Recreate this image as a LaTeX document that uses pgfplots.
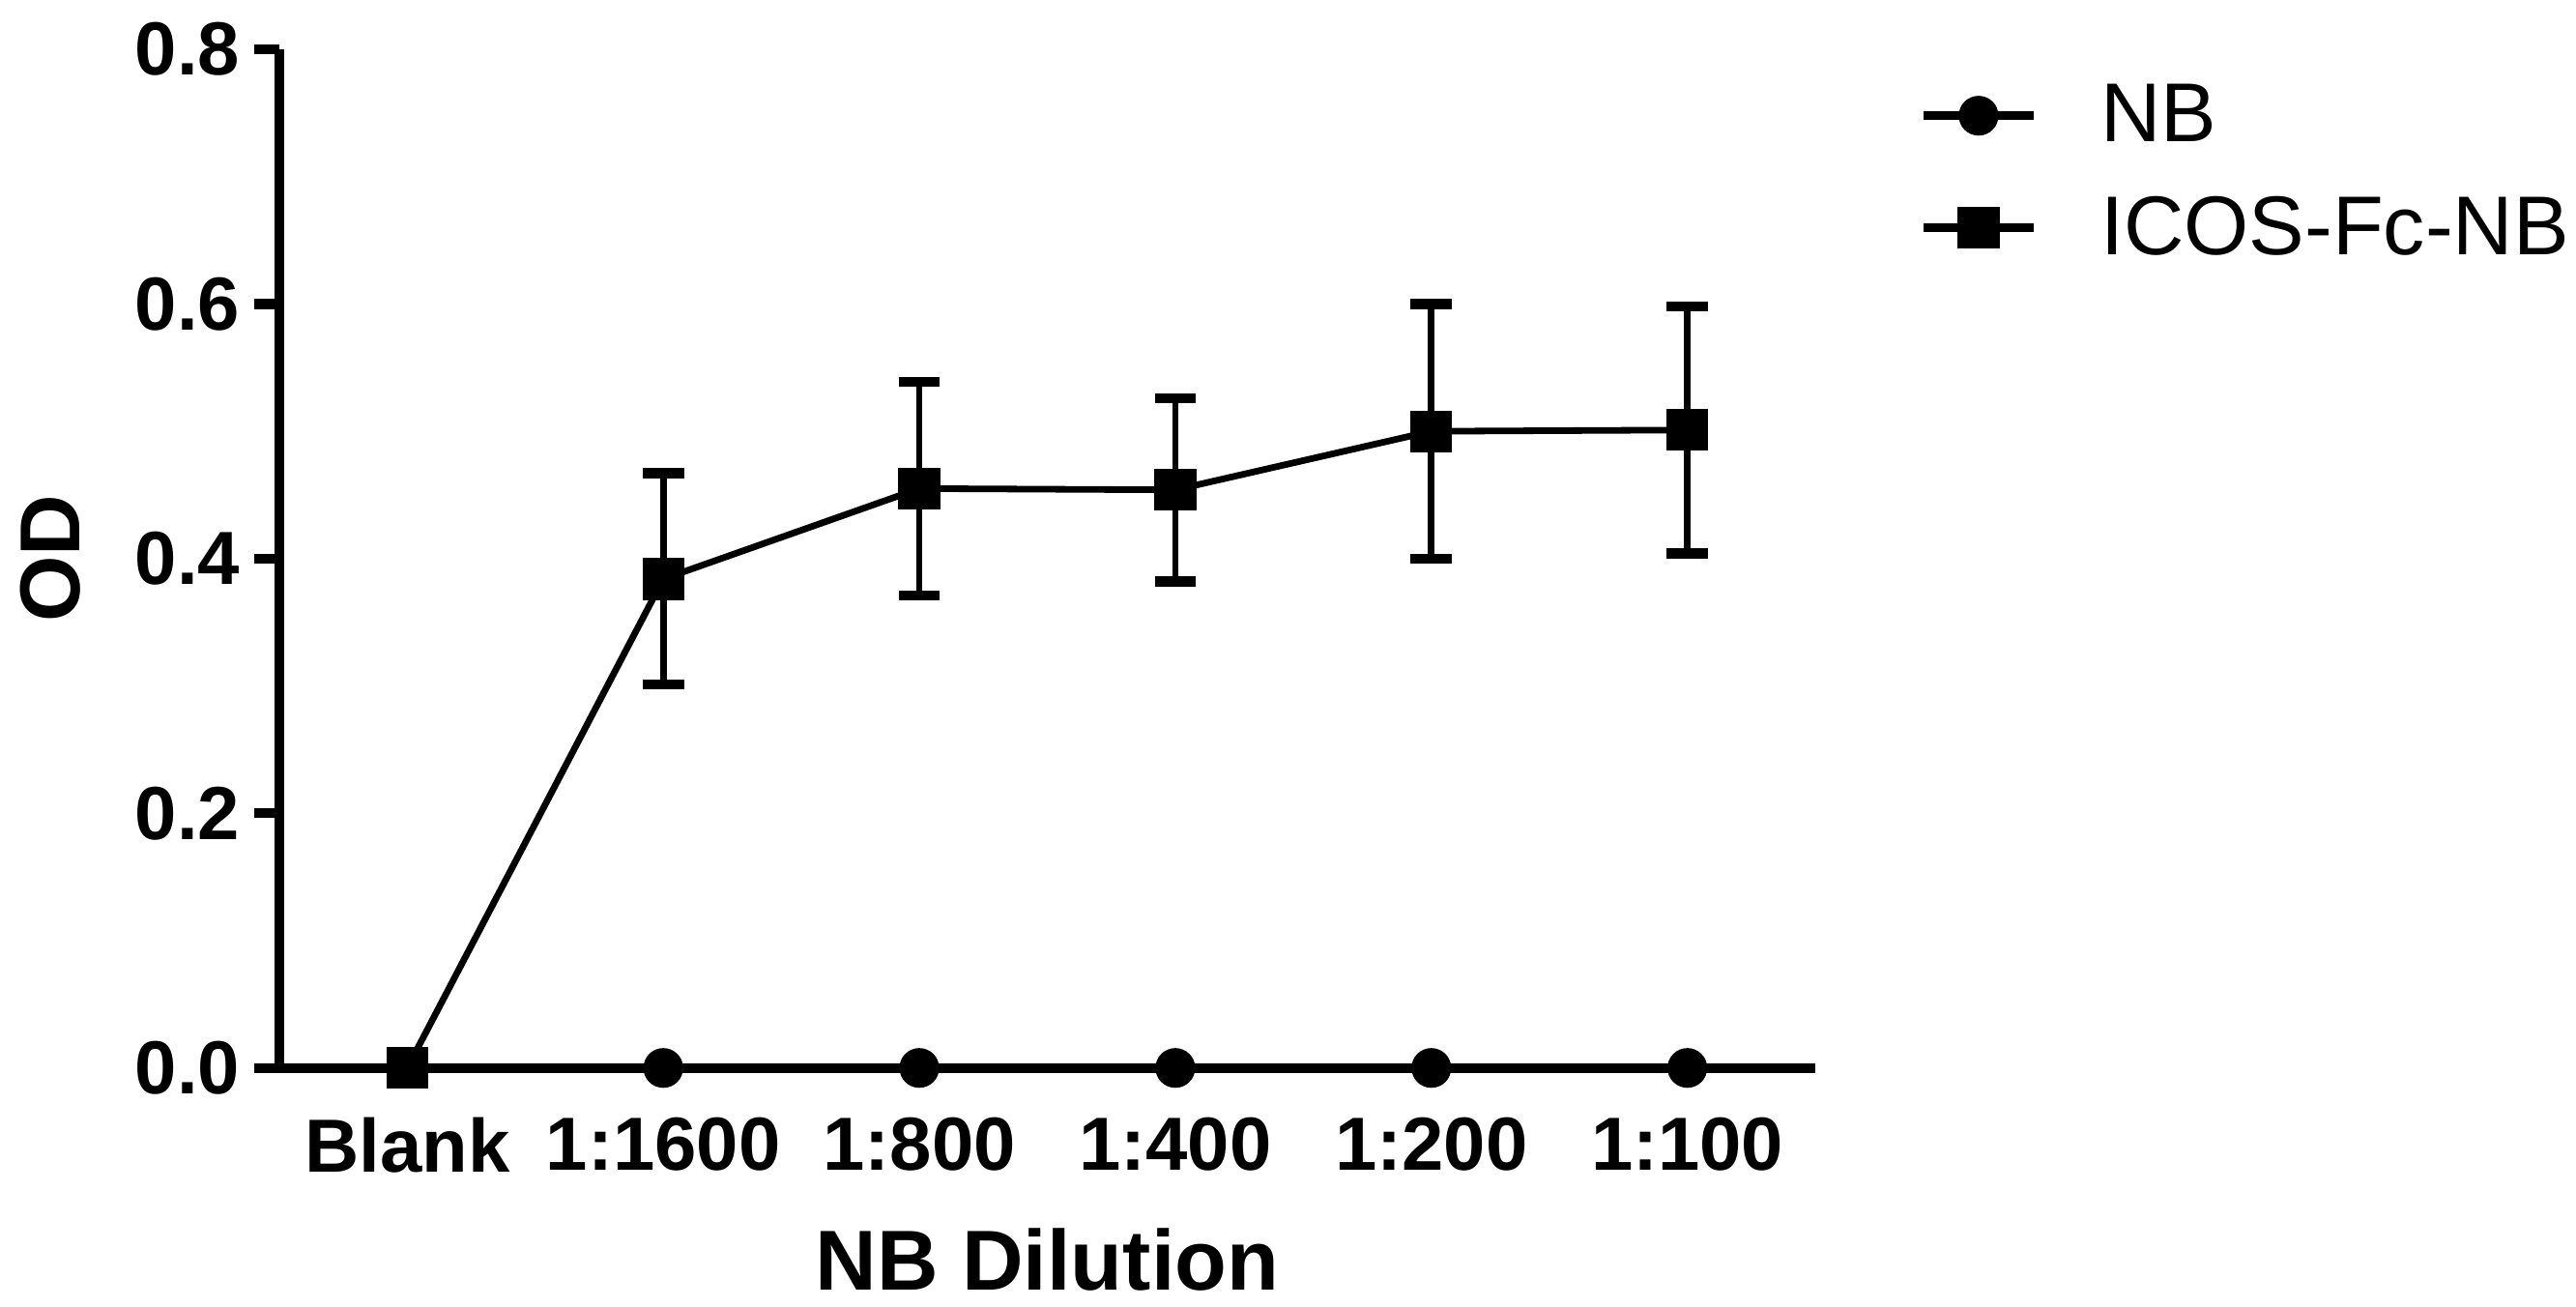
\documentclass[border=0pt]{standalone}
\usepackage{pgfplots}
\pgfplotsset{compat=1.18}
\usepackage{fontspec}
\setmainfont{Liberation Sans}
\begin{document}
\begin{tikzpicture}
\begin{axis}[
  scale only axis,
  width=467.5bp, height=310bp,
  xmin=-0.5, xmax=5.5,
  ymin=0, ymax=0.8,
  clip=false,
  axis x line=bottom, axis y line=left,
  axis line style={-, line width=3bp},
  xtick={0,1,2,3,4,5},
  xticklabels={Blank,1:1600,1:800,1:400,1:200,1:100},
  ytick={0,0.2,0.4,0.6,0.8},
  /pgf/number format/fixed,
  /pgf/number format/fixed zerofill,
  /pgf/number format/precision=1,
  /pgf/number format/assume math mode=true,
  tick align=outside,
  major tick length=7.5bp,
  ytick style={line width=3bp, black},
  xtick style={line width=2bp, black, /pgfplots/major tick length=5bp},
  ticklabel style={font=\fontsize{23}{26}\selectfont\bfseries},
  xticklabel style={yshift=-4bp},
  yticklabel style={xshift=-1bp},
  xlabel={NB Dilution}, ylabel={OD},
  label style={font=\fontsize{26}{30}\selectfont\bfseries},
  xlabel style={at={(axis description cs:0.5,-0.188)}, anchor=center, inner sep=0pt},
  ylabel style={at={(axis description cs:-0.149,0.5)}, anchor=center},
  legend style={draw=none, at={(axis description cs:1.067,0.966)}, anchor=north west,
    font=\fontsize{25.5}{30}\selectfont, row sep=15bp, column sep=19bp, fill=none, inner sep=0pt,
    nodes={inner sep=0pt}},
  legend cell align=left,
  legend image code/.code={\draw[mark repeat=2,mark phase=2, line width=2.8bp] plot coordinates {(0bp,0bp) (16.75bp,0bp) (33.5bp,0bp)};},
]
\addplot[black, line width=2bp, mark=*, mark size=5.8bp, mark options={solid, line width=0.5bp}]
  coordinates {(0,0) (1,0) (2,0) (3,0) (4,0) (5,0)};
\addlegendentry{NB}
\addplot[black, line width=2bp, mark=square*, mark size=6.2bp, mark options={line width=0.3bp},
  error bars/.cd, y dir=both, y explicit,
  error bar style={line width=2bp},
  error mark options={rotate=90, line width=3bp, mark size=6.3bp, black}]
  coordinates {(0,0) (1,0.384) +- (0,0.083) (2,0.455) +- (0,0.084) (3,0.454) +- (0,0.072) (4,0.500) +- (0,0.100) (5,0.501) +- (0,0.097)};
\addlegendentry{ICOS-Fc-NB}
\end{axis}
\pgfresetboundingbox
\path ([xshift=-85bp,yshift=-72.5bp]current axis.south west) rectangle ([xshift=231.5bp,yshift=15bp]current axis.north east);
\end{tikzpicture}
\end{document}
